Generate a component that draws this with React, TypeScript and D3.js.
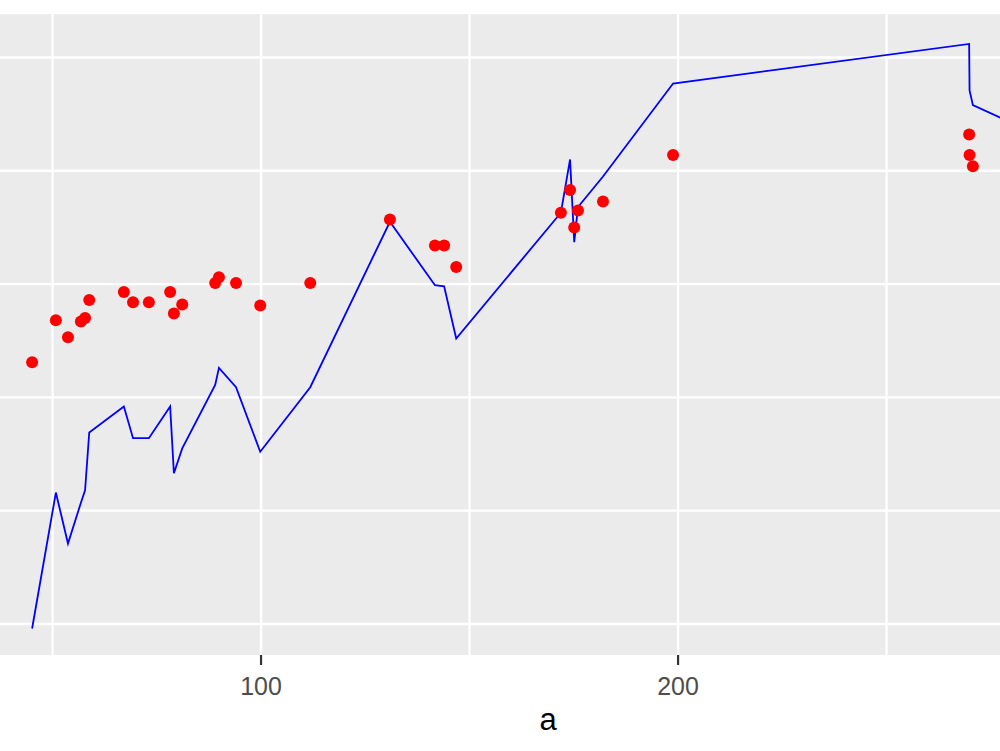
import React, { useEffect, useRef } from "react";
import * as d3 from "d3";

// x values (shared by both series)
const xValues = [
  45.1, 50.8, 53.7, 56.8, 57.8, 58.8, 67.1, 69.3, 73.1, 78.2, 79.1, 81.1, 89.0, 89.9, 94.0,
  99.8, 111.8, 130.9, 141.7, 143.9, 146.8, 171.9, 174.1, 175.1, 176.0, 182.0, 198.8,
  269.8, 269.9, 270.7, 282.0,
];
// observed values (red points)
const pointValues = [
  23.1, 26.8, 25.3, 26.7, 27.0, 28.6, 29.3, 28.4, 28.4, 29.3, 27.4, 28.2, 30.1, 30.6, 30.1,
  28.1, 30.1, 35.7, 33.4, 33.4, 31.5, 36.3, 38.3, 35.0, 36.5, 37.3, 41.4,
  43.2, 41.4, 40.4, 40.0,
];
// fitted values (blue line)
const lineValues = [
  -0.4, 11.6, 7.1, 10.7, 11.8, 16.9, 19.2, 16.4, 16.4, 19.2, 13.3, 15.5, 21.1, 22.6, 20.9,
  15.2, 20.9, 35.5, 29.9, 29.8, 25.2, 36.3, 41.0, 33.7, 36.8, 39.5, 47.7,
  51.2, 47.1, 45.8, 43.9,
];
const xBreaks = [100, 200];
const xMinorBreaks = [50, 150, 250];
const yGrid = [0, 10, 20, 30, 40, 50];
const xTitle = "a";

const W = 1000;
const H = 751;
const panel = { left: -10, right: 1010, top: 14, bottom: 655 };

export default function App() {
  const ref = useRef<SVGSVGElement>(null);

  useEffect(() => {
    const svg = d3.select(ref.current);
    svg.selectAll("*").remove();

    const x = d3.scaleLinear().domain([37.4, 277.2]).range([0, 1000]);
    const y = d3.scaleLinear().domain([-2.74, 53.84]).range([panel.bottom, panel.top]);

    svg.append("defs").append("clipPath").attr("id", "clip")
      .append("rect")
      .attr("x", panel.left).attr("y", panel.top)
      .attr("width", panel.right - panel.left).attr("height", panel.bottom - panel.top);

    svg.append("rect")
      .attr("x", panel.left).attr("y", panel.top)
      .attr("width", panel.right - panel.left).attr("height", panel.bottom - panel.top)
      .attr("fill", "#EBEBEB");

    const g = svg.append("g").attr("clip-path", "url(#clip)");

    g.selectAll("line.hg").data(yGrid).join("line")
      .attr("x1", panel.left).attr("x2", panel.right)
      .attr("y1", (d) => y(d)).attr("y2", (d) => y(d))
      .attr("stroke", "#fff").attr("stroke-width", 2.4);

    g.selectAll("line.vmin").data(xMinorBreaks).join("line")
      .attr("x1", (d) => x(d)).attr("x2", (d) => x(d))
      .attr("y1", panel.top).attr("y2", panel.bottom)
      .attr("stroke", "#fff").attr("stroke-width", 2.2);

    g.selectAll("line.vmaj").data(xBreaks).join("line")
      .attr("x1", (d) => x(d)).attr("x2", (d) => x(d))
      .attr("y1", panel.top).attr("y2", panel.bottom)
      .attr("stroke", "#fff").attr("stroke-width", 2.4);

    const idx = d3.range(xValues.length);
    const line = d3.line<number>().x((i) => x(xValues[i])).y((i) => y(lineValues[i]));
    g.append("path").attr("d", line(idx)!)
      .attr("fill", "none").attr("stroke", "#0000FF").attr("stroke-width", 1.8)
      .attr("stroke-linejoin", "miter");

    g.selectAll("circle").data(idx).join("circle")
      .attr("cx", (i) => x(xValues[i])).attr("cy", (i) => y(pointValues[i]))
      .attr("r", 6).attr("fill", "#FF0000");

    // axis ticks
    svg.selectAll("line.tick").data(xBreaks).join("line")
      .attr("x1", (d) => x(d)).attr("x2", (d) => x(d))
      .attr("y1", panel.bottom).attr("y2", panel.bottom + 10)
      .attr("stroke", "#333333").attr("stroke-width", 2.2);

    svg.selectAll("text.tl").data(xBreaks).join("text")
      .attr("x", (d) => x(d)).attr("y", 695)
      .attr("text-anchor", "middle")
      .attr("font-family", "Liberation Sans, Arial, sans-serif")
      .attr("font-size", 25)
      .attr("fill", "#4D4D4D")
      .text((d) => String(d));

    svg.append("text")
      .attr("x", 548).attr("y", 730)
      .attr("text-anchor", "middle")
      .attr("font-family", "Liberation Sans, Arial, sans-serif")
      .attr("font-size", 31)
      .attr("fill", "#000")
      .text(xTitle);
  }, []);

  return (
    <div style={{ position: "fixed", left: 0, top: 0, width: W, height: H, background: "#fff" }}>
      <svg ref={ref} width={W} height={H} style={{ display: "block" }} />
    </div>
  );
}
